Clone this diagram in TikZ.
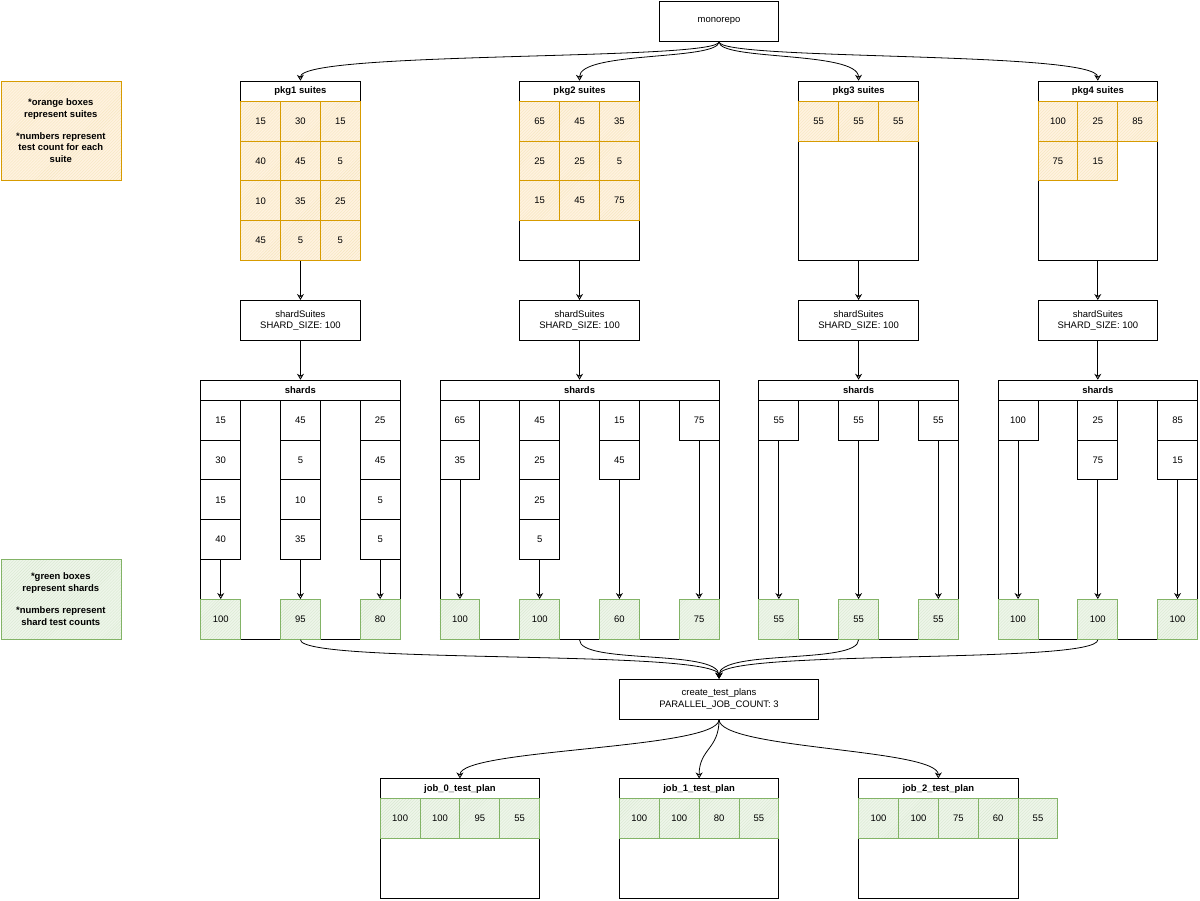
\documentclass[tikz,border=0pt]{standalone}
\usepackage{fontspec}
\setmainfont{Liberation Sans}
\usetikzlibrary{arrows.meta,patterns,calc}
\definecolor{ostroke}{HTML}{D79B00}
\definecolor{ofill}{HTML}{FFF2E0}
\definecolor{gstroke}{HTML}{82B366}
\definecolor{gfill}{HTML}{EEF6EA}
\tikzset{
 base/.style={draw, inner sep=0pt, anchor=north west, font=\fontsize{9.5}{11.5}\selectfont, line width=0.9pt},
 cont/.style={base},
 hdr/.style={base, minimum height=20, font=\fontsize{9.5}{11.5}\selectfont\bfseries},
 wbox/.style={base, minimum width=40, minimum height=40},
 obox/.style={base, minimum width=40, minimum height=40, draw=ostroke, preaction={fill=ofill}, pattern=north east lines, pattern color=ostroke!25},
 gbox/.style={base, minimum width=40, minimum height=40, draw=gstroke, preaction={fill=gfill}, pattern=north east lines, pattern color=gstroke!30},
 arr/.style={-{Stealth[open,length=6pt,width=7pt]}, line width=0.8pt},
}
\newcommand\suites[3]{% pkg, x, list
 \foreach \v [count=\i from 0] in {#3} {
  \pgfmathtruncatemacro\cx{#2+mod(\i,3)*40}
  \pgfmathtruncatemacro\cy{100+div(\i,3)*40}
  \node[obox] (s#1-\i) at (\cx,\cy) {\v};
 }}
\newcommand\shcol[5]{% name, x, list, n, green
 \foreach \v [count=\i] in {#3} {
  \pgfmathtruncatemacro\cy{400+(\i-1)*40}
  \node[wbox] (#1-\i) at (#2,\cy) {\v};
 }
 \node[gbox] (#1-g) at (#2,600) {#5};
 \draw[arr] (#1-#4.south) -- (#1-g.north);}
\newcommand\jobcells[3]{% job, x, list
 \foreach \v [count=\i from 0] in {#3} {
  \pgfmathtruncatemacro\cx{#2+\i*40}
  \node[gbox] (j#1-\i) at (\cx,800) {\v};
 }}
\begin{document}
\begin{tikzpicture}[x=1pt,y=-1pt]
\useasboundingbox (-1,-1) rectangle (1203,902);
% legends
\node[base, minimum width=120, minimum height=100, draw=ostroke, preaction={fill=ofill}, pattern=north east lines, pattern color=ostroke!25] (leg1) at (0,80) {};
\node[font=\fontsize{9.5}{11.5}\selectfont\bfseries, align=center] (leg1t) at (60,130) {*orange boxes\\represent suites\\[11pt]*numbers represent\\test count for each\\suite};
\node[base, minimum width=120, minimum height=80, draw=gstroke, preaction={fill=gfill}, pattern=north east lines, pattern color=gstroke!30] (leg2) at (0,560) {};
\node[font=\fontsize{9.5}{11.5}\selectfont\bfseries, align=center] (leg2t) at (60,600) {*green boxes\\represent shards\\[11pt]*numbers represent\\shard test counts};
% monorepo
\node[cont, minimum width=120, minimum height=40] (mono) at (660,0) {monorepo};
\foreach \p/\x in {1/240,2/520,3/800,4/1040} {
 \node[cont, minimum width=120, minimum height=180] (pkg\p) at (\x,80) {};
 \node[hdr, minimum width=120] (pkg\p h) at (\x,80) {pkg\p{} suites};
 \node[cont, minimum width=120, minimum height=40, align=center] (ss\p) at (\x,300) {shardSuites\\SHARD\_SIZE: 100};
 \draw[arr] (pkg\p.south) -- (ss\p.north);
 \draw[arr] (mono.south) .. controls (720,60) and ({\x+60},50) .. (pkg\p h.north);
}
\suites{1}{240}{15,30,15,40,45,5,10,35,25,45,5,5}
\suites{2}{520}{65,45,35,25,25,5,15,45,75}
\suites{3}{800}{55,55,55}
\suites{4}{1040}{100,25,85,75,15}
% shards
\foreach \s/\x/\w in {1/200/200,2/440/280,3/760/200,4/1000/200} {
 \node[cont, minimum width=\w, minimum height=260] (sh\s) at (\x,380) {};
 \node[hdr, minimum width=\w] (sh\s h) at (\x,380) {shards};
 \draw[arr] (ss\s.south) -- (sh\s h.north);
}
\shcol{a1}{200}{15,30,15,40}{4}{100}
\shcol{a2}{280}{45,5,10,35}{4}{95}
\shcol{a3}{360}{25,45,5,5}{4}{80}
\shcol{b1}{440}{65,35}{2}{100}
\shcol{b2}{520}{45,25,25,5}{4}{100}
\shcol{b3}{600}{15,45}{2}{60}
\shcol{b4}{680}{75}{1}{75}
\shcol{c1}{760}{55}{1}{55}
\shcol{c2}{840}{55}{1}{55}
\shcol{c3}{920}{55}{1}{55}
\shcol{d1}{1000}{100}{1}{100}
\shcol{d2}{1080}{25,75}{2}{100}
\shcol{d3}{1160}{85,15}{2}{100}
% create test plans
\node[cont, minimum width=200, minimum height=40, align=center] (ctp) at (620,680) {create\_test\_plans\\PARALLEL\_JOB\_COUNT: 3};
\foreach \s in {1,2,3,4} {
 \draw[arr] (sh\s.south) .. controls ($(sh\s.south)+(0,25)$) and (720,650) .. (ctp.north);
}
\foreach \j/\x in {0/380,1/620,2/860} {
 \node[cont, minimum width=160, minimum height=120] (job\j) at (\x,780) {};
 \node[hdr, minimum width=160] (job\j h) at (\x,780) {job\_\j\_test\_plan};
 \draw[arr] (ctp.south) .. controls ($(ctp.south)+(0,30)$) and ($(job\j h.north)+(0,-30)$) .. (job\j h.north);
}
\jobcells{0}{380}{100,100,95,55}
\jobcells{1}{620}{100,100,80,55}
\jobcells{2}{860}{100,100,75,60,55}
\end{tikzpicture}
\end{document}
